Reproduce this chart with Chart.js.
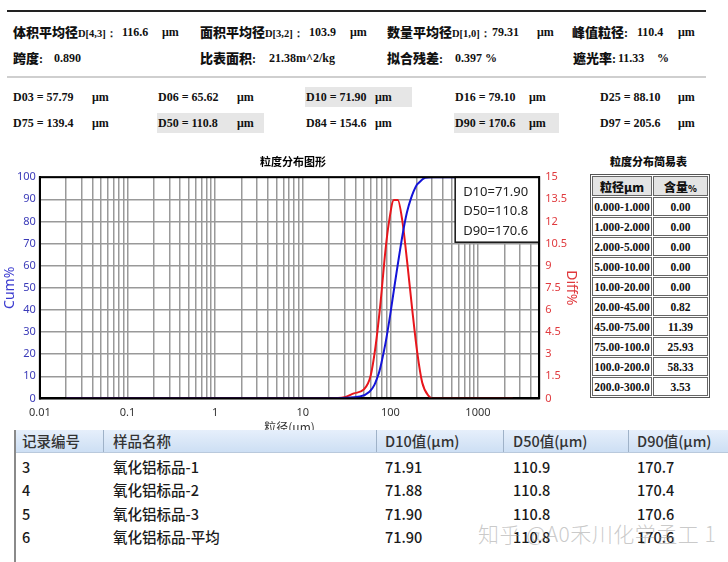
<!DOCTYPE html>
<html>
<head>
<meta charset="utf-8">
<script src="https://cdn.jsdelivr.net/npm/chart.js@4.4.1/dist/chart.umd.min.js"></script>
<style>
  html, body { margin: 0; padding: 0; background: #fff; }
  body { width: 728px; height: 562px; position: relative; overflow: hidden; }
  .a { position: absolute; white-space: nowrap; line-height: 16px; }
  .cn { font-family: "Noto Sans CJK SC", sans-serif; font-weight: 900; font-size: 13px; color: #111; }
  .sf { font-family: "Liberation Serif", serif; font-weight: bold; font-size: 12px; color: #111; }
  .lb { font-family: "Liberation Serif", serif; font-weight: bold; font-size: 10.5px; color: #111; }
  .hl { position: absolute; background: #e6e6e6; }
  #wrap { position: absolute; left: 0; top: 148px; width: 589px; height: 287px; }
  #tbl { position: absolute; left: 590px; top: 174px; border-collapse: separate; border-spacing: 1px; border: 1px solid #555; }
  #tbl td, #tbl th { border: 1px solid #666; height: 17px; padding: 0; text-align: center;
     font-family: "Liberation Serif", serif; font-weight: bold; font-size: 11.5px; color: #111; }
  #tbl th { background: #e4e4e4; font-family: "Noto Sans CJK SC", sans-serif; font-weight: 900; font-size: 12px; height: 18px; }
  #list { position: absolute; left: 14px; top: 430px; width: 714px; height: 132px; background: #fff; border-left: 2px solid #8a8a8a; }
  #list .hd { position: absolute; left: 0; top: 0; width: 714px; height: 22px;
     background: linear-gradient(#e6effb, #cddff4); border-bottom: 1px solid #b9c9dc; }
  #list .sep { position: absolute; top: 0; width: 1px; height: 22px; background: #9fb2c8; }
  #list .t { position: absolute; font-family: "Noto Sans CJK SC", sans-serif; font-size: 14.5px; font-weight: 500; color: #1a1a1a; line-height: 20px; white-space: nowrap; }
  #wm { position: absolute; left: 478px; top: 518px; font-family: "Noto Sans CJK SC", sans-serif; font-weight: 300;
     font-size: 21px; color: rgba(150,150,150,0.5); white-space: nowrap; letter-spacing: 0.5px; }
</style>
</head>
<body>
<!-- report header -->
<div style="position:absolute;left:7px;top:10px;width:699px;height:2px;background:#222"></div>
<div style="position:absolute;left:7px;top:76px;width:699px;height:2px;background:#cfcfcf"></div>

<div class="a" style="left:13px;top:24px"><span class="cn">体积平均径</span><span class="lb">D[4,3]：</span></div>
<div class="a sf" style="left:122px;top:24px">116.6</div>
<div class="a sf" style="left:162px;top:24px">μm</div>
<div class="a" style="left:200px;top:24px"><span class="cn">面积平均径</span><span class="lb">D[3,2]：</span></div>
<div class="a sf" style="left:309px;top:24px">103.9</div>
<div class="a sf" style="left:350px;top:24px">μm</div>
<div class="a" style="left:387px;top:24px"><span class="cn">数量平均径</span><span class="lb">D[1,0]：</span></div>
<div class="a sf" style="left:492px;top:24px">79.31</div>
<div class="a sf" style="left:537px;top:24px">μm</div>
<div class="a" style="left:572px;top:24px"><span class="cn">峰值粒径</span><span class="sf">:</span></div>
<div class="a sf" style="left:637px;top:24px">110.4</div>
<div class="a sf" style="left:678px;top:24px">μm</div>

<div class="a" style="left:13px;top:50px"><span class="cn">跨度</span><span class="sf">:</span></div>
<div class="a sf" style="left:54px;top:50px">0.890</div>
<div class="a" style="left:200px;top:50px"><span class="cn">比表面积</span><span class="sf">:</span></div>
<div class="a sf" style="left:269px;top:50px">21.38m^2/kg</div>
<div class="a" style="left:387px;top:50px"><span class="cn">拟合残差</span><span class="sf">:</span></div>
<div class="a sf" style="left:455px;top:50px">0.397</div>
<div class="a sf" style="left:485px;top:50px">%</div>
<div class="a" style="left:573px;top:50px"><span class="cn">遮光率</span><span class="sf">:</span></div>
<div class="a sf" style="left:618px;top:50px">11.33</div>
<div class="a sf" style="left:657px;top:50px">%</div>

<div class="hl" style="left:305px;top:87px;width:107px;height:20px"></div>
<div class="hl" style="left:157px;top:113px;width:107px;height:20px"></div>
<div class="hl" style="left:454px;top:113px;width:105px;height:20px"></div>

<div class="a sf" style="left:13px;top:89px">D03 = 57.79</div><div class="a sf" style="left:92px;top:89px">μm</div>
<div class="a sf" style="left:158px;top:89px">D06 = 65.62</div><div class="a sf" style="left:237px;top:89px">μm</div>
<div class="a sf" style="left:306px;top:89px">D10 = 71.90</div><div class="a sf" style="left:375px;top:89px">μm</div>
<div class="a sf" style="left:455px;top:89px">D16 = 79.10</div><div class="a sf" style="left:529px;top:89px">μm</div>
<div class="a sf" style="left:600px;top:89px">D25 = 88.10</div><div class="a sf" style="left:678px;top:89px">μm</div>
<div class="a sf" style="left:13px;top:115px">D75 = 139.4</div><div class="a sf" style="left:92px;top:115px">μm</div>
<div class="a sf" style="left:158px;top:115px">D50 = 110.8</div><div class="a sf" style="left:237px;top:115px">μm</div>
<div class="a sf" style="left:306px;top:115px">D84 = 154.6</div><div class="a sf" style="left:375px;top:115px">μm</div>
<div class="a sf" style="left:455px;top:115px">D90 = 170.6</div><div class="a sf" style="left:529px;top:115px">μm</div>
<div class="a sf" style="left:600px;top:115px">D97 = 205.6</div><div class="a sf" style="left:678px;top:115px">μm</div>

<div id="wrap"><canvas id="chart"></canvas></div>

<div class="a cn" style="left:590px;top:153px;width:117px;text-align:center;font-size:11px">粒度分布简易表</div>
<table id="tbl"></table>

<div id="list">
  <div class="hd"></div>
</div>
<div id="wm">知乎 @A0禾川化学孟工 1</div>

<script>
// ---- data ----
var cumSizes = [0.02, 20, 45, 57.79, 65.62, 71.9, 75, 79.1, 88.1, 100, 110.8, 139.4, 154.6, 170.6, 200, 205.6, 250, 300, 2500];
var cumValues = [0, 0, 0.82, 3, 6, 10, 12.21, 16, 25, 38.14, 50, 75, 84, 90, 96.47, 97, 99.7, 100, 100];

var diffSizes = [0.02, 20, 30, 38.4, 49.9, 59.4, 67.8, 77.3, 88.1, 96.2, 109.7, 121.7, 136.6, 156, 178, 203, 231, 275, 300, 2500];
var diffValues = [0, 0, 0.08, 0.34, 0.61, 1.5, 3.53, 6.5, 10.07, 11.9, 13.45, 13.45, 12.1, 9.2, 6.0, 3.1, 1.08, 0.15, 0, 0];

var decades = [0.01, 0.1, 1, 10, 100, 1000];
var xMax = 5000;
var dLabels = ['D10=71.90', 'D50=110.8', 'D90=170.6'];

var rangeLabels = ['0.000-1.000', '1.000-2.000', '2.000-5.000', '5.000-10.00', '10.00-20.00',
                   '20.00-45.00', '45.00-75.00', '75.00-100.0', '100.0-200.0', '200.0-300.0'];
var rangeContent = ['0.00', '0.00', '0.00', '0.00', '0.00', '0.82', '11.39', '25.93', '58.33', '3.53'];

var listHeaders = ['记录编号', '样品名称', 'D10值(μm)', 'D50值(μm)', 'D90值(μm)'];
var recordNo = ['3', '4', '5', '6'];
var sampleNames = ['氧化铝标品-1', '氧化铝标品-2', '氧化铝标品-3', '氧化铝标品-平均'];
var d10Vals = ['71.91', '71.88', '71.90', '71.90'];
var d50Vals = ['110.9', '110.8', '110.8', '110.8'];
var d90Vals = ['170.7', '170.4', '170.6', '170.6'];

// ---- side table ----
var tbl = document.getElementById('tbl');
var html = '<tr><th style="width:58px">粒径μm</th><th style="width:53px">含量<span style="font-size:9px">%</span></th></tr>';
for (var i = 0; i < rangeLabels.length; i++) {
    html += '<tr><td>' + rangeLabels[i] + '</td><td>' + rangeContent[i] + '</td></tr>';
}
tbl.innerHTML = html;

// ---- bottom list ----
var list = document.getElementById('list');
var colX = [6, 97, 369, 497, 621];
var sepX = [87, 360, 487, 612];
sepX.forEach(function(x) {
    var s = document.createElement('div');
    s.className = 'sep'; s.style.left = x + 'px';
    list.appendChild(s);
});
function addText(txt, x, y, col) {
    var t = document.createElement('div');
    t.className = 't'; t.textContent = txt;
    t.style.left = x + 'px'; t.style.top = y + 'px';
    if (col) t.style.color = col;
    list.appendChild(t);
}
listHeaders.forEach(function(h, i) { addText(h, colX[i], 1, '#333'); });
var cols = [recordNo, sampleNames, d10Vals, d50Vals, d90Vals];
for (var r = 0; r < recordNo.length; r++) {
    for (var c = 0; c < cols.length; c++) {
        addText(cols[c][r], colX[c], 27 + r * 23.3);
    }
}

// ---- chart ----
var gridValues = [];
decades.forEach(function(d) {
    for (var k = 1; k <= 9; k++) {
        var v = +(d * k).toPrecision(3);
        if (v <= xMax) gridValues.push(v);
    }
});

var frameAndBox = {
    id: 'frameAndBox',
    afterDatasetsDraw: function(chart) {
        var ctx = chart.ctx, a = chart.chartArea;
        ctx.save();
        var w = 84, h = 65;
        var bx = a.right - w, by = a.top;
        ctx.fillStyle = '#fff';
        ctx.fillRect(bx, by, w, h);
        ctx.strokeStyle = '#111';
        ctx.lineWidth = 1.5;
        ctx.strokeRect(bx, by, w, h);
        ctx.fillStyle = '#222';
        ctx.font = '13px "Noto Sans", sans-serif';
        ctx.textBaseline = 'middle';
        dLabels.forEach(function(t, i) { ctx.fillText(t, bx + 8, by + 15 + i * 19.5); });
        ctx.lineWidth = 2;
        ctx.strokeStyle = '#000';
        ctx.strokeRect(a.left, a.top, a.right - a.left, a.bottom - a.top);
        // axis titles
        var midY = (a.top + a.bottom) / 2;
        ctx.font = '14px "Noto Sans", sans-serif';
        ctx.textAlign = 'center';
        ctx.fillStyle = '#3a3ad0';
        ctx.translate(10, midY);
        ctx.rotate(-Math.PI / 2);
        ctx.fillText('Cum%', 0, 0);
        ctx.setTransform(1, 0, 0, 1, 0, 0);
        ctx.scale(chart.currentDevicePixelRatio, chart.currentDevicePixelRatio);
        ctx.fillStyle = '#e03a3e';
        ctx.translate(a.right + 32, midY);
        ctx.rotate(Math.PI / 2);
        ctx.fillText('Diff%', 0, 0);
        ctx.restore();
    }
};

var ctx = document.getElementById('chart').getContext('2d');
new Chart(ctx, {
    type: 'line',
    data: {
        datasets: [{
            label: 'Cum%',
            data: cumSizes.map(function(s, i) { return {x: s, y: cumValues[i]}; }),
            borderColor: '#1414d8',
            borderWidth: 2,
            pointRadius: 0,
            cubicInterpolationMode: 'monotone',
            yAxisID: 'y'
        }, {
            label: 'Diff%',
            data: diffSizes.map(function(s, i) { return {x: s, y: diffValues[i]}; }),
            borderColor: '#e8161c',
            borderWidth: 2,
            pointRadius: 0,
            cubicInterpolationMode: 'monotone',
            yAxisID: 'y2'
        }]
    },
    options: {
        responsive: true,
        maintainAspectRatio: false,
        animation: false,
        layout: { padding: { left: 13, right: 16, top: 0, bottom: 0 } },
        plugins: {
            legend: { display: false },
            tooltip: { enabled: false },
            title: {
                display: true,
                text: '粒度分布图形',
                color: '#000',
                font: { family: '"Noto Sans CJK SC"', size: 11, weight: 'bold' },
                padding: { top: 7, bottom: 9 }
            }
        },
        scales: {
            x: {
                type: 'logarithmic',
                min: 0.01,
                max: xMax,
                afterBuildTicks: function(scale) {
                    scale.ticks = gridValues.map(function(v) { return {value: v}; });
                },
                ticks: {
                    autoSkip: false,
                    maxRotation: 0,
                    color: '#333',
                    padding: 8,
                    font: { family: '"Noto Sans"', size: 11 },
                    callback: function(v) {
                        return decades.indexOf(+(+v).toPrecision(3)) >= 0 ? String(+(+v).toPrecision(3)) : '';
                    }
                },
                grid: { color: '#999', lineWidth: 1.5, drawTicks: false },
                border: { color: '#000', width: 2 },
                title: {
                    display: true,
                    text: '粒径(μm)',
                    color: '#333',
                    font: { family: '"Noto Sans CJK SC"', size: 12 },
                    padding: { top: -7, bottom: 0 }
                }
            },
            y: {
                position: 'left',
                min: 0,
                max: 100,
                ticks: { stepSize: 10, color: '#3a3ab8', padding: 4, font: { family: '"Noto Sans"', size: 11 } },
                grid: { color: '#999', lineWidth: 1.5, drawTicks: false },
                border: { color: '#000', width: 2 },
                title: { display: false }
            },
            y2: {
                position: 'right',
                min: 0,
                max: 15,
                ticks: { stepSize: 1.5, color: '#e03a3e', padding: 6, font: { family: '"Noto Sans"', size: 11 } },
                grid: { display: false, drawTicks: false },
                border: { color: '#000', width: 2 },
                title: { display: false }
            }
        }
    },
    plugins: [frameAndBox]
});
</script>
</body>
</html>
